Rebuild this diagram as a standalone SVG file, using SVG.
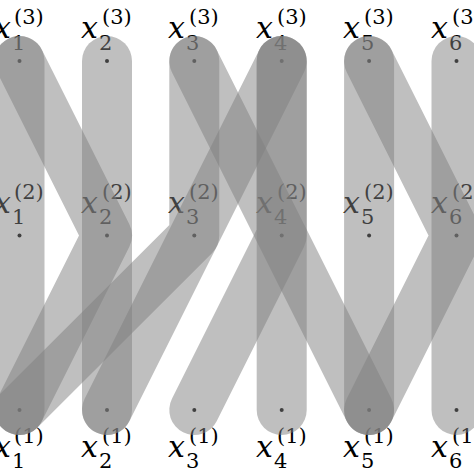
<svg xmlns="http://www.w3.org/2000/svg" width="474" height="474" viewBox="0 0 474 474">
<defs>
<style>
.dot{fill:#000}
.e{fill:none;stroke:#808080;stroke-opacity:0.5;stroke-width:50;stroke-linecap:round;stroke-linejoin:round}
</style>
</defs>
<rect width="474" height="474" fill="#fff"/>
<g id="nodes" font-family="DejaVu Serif, Liberation Serif, serif" fill="#000">
<g id="x1_3"><circle class="dot" cx="19.5" cy="61" r="2"/><text font-size="30" font-style="italic" x="-6" y="38">x</text><text font-size="21" x="12" y="50">1</text><text font-size="21" x="14" y="24">(3)</text></g>
<g id="x2_3"><circle class="dot" cx="107" cy="61" r="2"/><text font-size="30" font-style="italic" x="81" y="38">x</text><text font-size="21" x="99" y="50">2</text><text font-size="21" x="102" y="24">(3)</text></g>
<g id="x3_3"><circle class="dot" cx="194.3" cy="61" r="2"/><text font-size="30" font-style="italic" x="168" y="38">x</text><text font-size="21" x="186" y="50">3</text><text font-size="21" x="189" y="24">(3)</text></g>
<g id="x4_3"><circle class="dot" cx="281.7" cy="61" r="2"/><text font-size="30" font-style="italic" x="256" y="38">x</text><text font-size="21" x="274" y="50">4</text><text font-size="21" x="277" y="24">(3)</text></g>
<g id="x5_3"><circle class="dot" cx="369.1" cy="61" r="2"/><text font-size="30" font-style="italic" x="343" y="38">x</text><text font-size="21" x="361" y="50">5</text><text font-size="21" x="364" y="24">(3)</text></g>
<g id="x6_3"><circle class="dot" cx="456.5" cy="61" r="2"/><text font-size="30" font-style="italic" x="431" y="38">x</text><text font-size="21" x="449" y="50">6</text><text font-size="21" x="452" y="24">(3)</text></g>
<g id="x1_2"><circle class="dot" cx="19.5" cy="235.5" r="2"/><text font-size="30" font-style="italic" x="-6" y="213">x</text><text font-size="21" x="12" y="224">1</text><text font-size="21" x="14" y="199">(2)</text></g>
<g id="x2_2"><circle class="dot" cx="107" cy="235.5" r="2"/><text font-size="30" font-style="italic" x="81" y="213">x</text><text font-size="21" x="99" y="224">2</text><text font-size="21" x="102" y="199">(2)</text></g>
<g id="x3_2"><circle class="dot" cx="194.3" cy="235.5" r="2"/><text font-size="30" font-style="italic" x="168" y="213">x</text><text font-size="21" x="186" y="224">3</text><text font-size="21" x="189" y="199">(2)</text></g>
<g id="x4_2"><circle class="dot" cx="281.7" cy="235.5" r="2"/><text font-size="30" font-style="italic" x="256" y="213">x</text><text font-size="21" x="274" y="224">4</text><text font-size="21" x="277" y="199">(2)</text></g>
<g id="x5_2"><circle class="dot" cx="369.1" cy="235.5" r="2"/><text font-size="30" font-style="italic" x="343" y="213">x</text><text font-size="21" x="361" y="224">5</text><text font-size="21" x="364" y="199">(2)</text></g>
<g id="x6_2"><circle class="dot" cx="456.5" cy="235.5" r="2"/><text font-size="30" font-style="italic" x="431" y="213">x</text><text font-size="21" x="449" y="224">6</text><text font-size="21" x="452" y="199">(2)</text></g>
<g id="x1_1"><circle class="dot" cx="19.5" cy="410" r="2"/><text font-size="30" font-style="italic" x="-6" y="457">x</text><text font-size="21" x="12" y="468">1</text><text font-size="21" x="14" y="443">(1)</text></g>
<g id="x2_1"><circle class="dot" cx="107" cy="410" r="2"/><text font-size="30" font-style="italic" x="81" y="457">x</text><text font-size="21" x="99" y="468">2</text><text font-size="21" x="102" y="443">(1)</text></g>
<g id="x3_1"><circle class="dot" cx="194.3" cy="410" r="2"/><text font-size="30" font-style="italic" x="168" y="457">x</text><text font-size="21" x="186" y="468">3</text><text font-size="21" x="189" y="443">(1)</text></g>
<g id="x4_1"><circle class="dot" cx="281.7" cy="410" r="2"/><text font-size="30" font-style="italic" x="256" y="457">x</text><text font-size="21" x="274" y="468">4</text><text font-size="21" x="277" y="443">(1)</text></g>
<g id="x5_1"><circle class="dot" cx="369.1" cy="410" r="2"/><text font-size="30" font-style="italic" x="343" y="457">x</text><text font-size="21" x="361" y="468">5</text><text font-size="21" x="364" y="443">(1)</text></g>
<g id="x6_1"><circle class="dot" cx="456.5" cy="410" r="2"/><text font-size="30" font-style="italic" x="431" y="457">x</text><text font-size="21" x="449" y="468">6</text><text font-size="21" x="452" y="443">(1)</text></g>
</g>
<g id="connectors">
<path class="e" d="M19.5 61 L19.5 235.5 L19.5 410"/>
<path class="e" d="M107 61 L107 235.5 L107 410"/>
<path class="e" d="M19.5 61 L107 235.5 L19.5 410"/>
<path class="e" d="M194.3 61 L194.3 235.5 L19.5 410"/>
<path class="e" d="M281.7 61 L194.3 235.5 L107 410"/>
<path class="e" d="M194.3 61 L281.7 235.5 L369.1 410"/>
<path class="e" d="M281.7 61 L281.7 235.5 L281.7 410"/>
<path class="e" d="M281.7 61 L281.7 235.5 L194.3 410"/>
<path class="e" d="M369.1 61 L369.1 235.5 L369.1 410"/>
<path class="e" d="M369.1 61 L456.5 235.5 L369.1 410"/>
<path class="e" d="M456.5 61 L456.5 235.5 L456.5 410"/>
</g>
</svg>
